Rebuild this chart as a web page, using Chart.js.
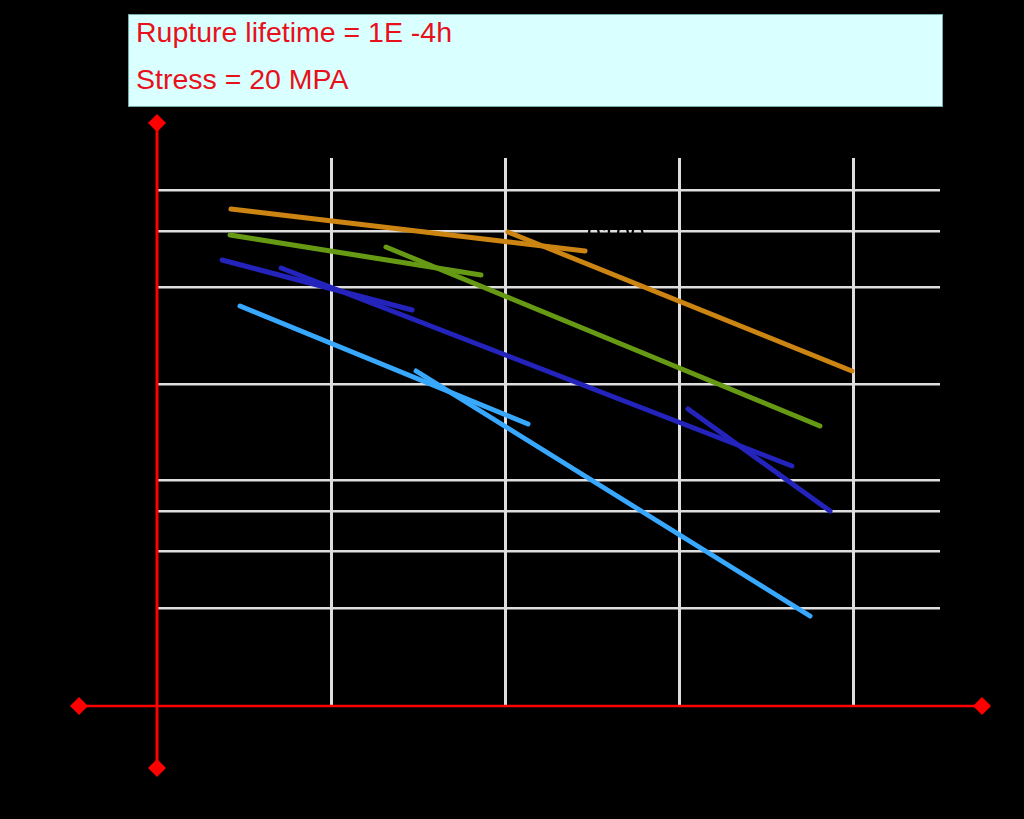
<!DOCTYPE html>
<html>
<head>
<meta charset="utf-8">
<script src="https://cdn.jsdelivr.net/npm/chart.js@4"></script>
<style>
  body { margin: 0; background: #000; }
  #wrap { position: relative; width: 1024px; height: 819px; }
  #info {
    position: absolute; left: 128px; top: 14px; width: 813px; height: 91px;
    background: #d9ffff; border: 1px solid #7aa; box-sizing: content-box;
    font-family: "Liberation Sans", Arial, sans-serif; font-size: 28.5px; color: #e8101a;
    line-height: 1;
  }
  #info div { position: absolute; left: 7px; }
</style>
</head>
<body>
<div id="wrap">
  <canvas id="rupture" width="1024" height="819"></canvas>
  <div id="info">
    <div style="top:3px">Rupture lifetime = 1E -4h</div>
    <div style="top:50px">Stress = 20 MPA</div>
  </div>
</div>
<script>
// x grid (decades) and y grid positions
const xTicks = [1, 2, 3, 4];
const yTicks = [5.16, 4.75, 4.19, 3.22, 2.26, 1.95, 1.55, 0.98];

// each curve is drawn as separate straight pieces
const orange1 = [{x: 0.425, y: 4.97}, {x: 2.46, y: 4.55}];
const orange2 = [{x: 2.017, y: 4.74}, {x: 3.994, y: 3.35}];
const green1 = [{x: 0.42, y: 4.71}, {x: 1.862, y: 4.31}];
const green2 = [{x: 1.316, y: 4.59}, {x: 3.81, y: 2.80}];
const blue1 = [{x: 0.374, y: 4.46}, {x: 1.466, y: 3.96}];
const blue2 = [{x: 0.713, y: 4.38}, {x: 3.649, y: 2.40}];
const blue3 = [{x: 3.052, y: 2.97}, {x: 3.868, y: 1.95}];
const sky1 = [{x: 0.477, y: 4.00}, {x: 2.132, y: 2.82}];
const sky2 = [{x: 1.489, y: 3.35}, {x: 3.753, y: 0.90}];

function seg(data, color) {
    return {
        data: data,
        borderColor: color,
        borderWidth: 5,
        borderCapStyle: 'round',
        pointRadius: 0,
        showLine: true,
        fill: false
    };
}

function diamond(ctx, x, y, r) {
    ctx.beginPath();
    ctx.moveTo(x, y - r);
    ctx.lineTo(x + r, y);
    ctx.lineTo(x, y + r);
    ctx.lineTo(x - r, y);
    ctx.closePath();
    ctx.fill();
}

// red axes with diamond ends, plus the (black) curve label
const redAxes = {
    id: 'redAxes',
    afterDraw(chart) {
        const ctx = chart.ctx;
        const x0 = chart.scales.x.getPixelForValue(0);
        const y0 = chart.scales.y.getPixelForValue(0);
        ctx.save();
        ctx.fillStyle = '#000';
        ctx.font = '26px "Liberation Sans", Arial, sans-serif';
        ctx.fillText('9100', chart.scales.x.getPixelForValue(2.47), chart.scales.y.getPixelForValue(4.62));
        ctx.strokeStyle = '#ff0000';
        ctx.fillStyle = '#ff0000';
        ctx.lineWidth = 3;
        ctx.beginPath();
        ctx.moveTo(x0, 122);
        ctx.lineTo(x0, 768);
        ctx.stroke();
        ctx.lineWidth = 2.5;
        ctx.beginPath();
        ctx.moveTo(78, y0);
        ctx.lineTo(982, y0);
        ctx.stroke();
        diamond(ctx, x0, 123, 9);
        diamond(ctx, x0, 768, 9);
        diamond(ctx, 79, y0, 9);
        diamond(ctx, 982, y0, 9);
        ctx.restore();
    }
};

new Chart(document.getElementById('rupture'), {
    type: 'scatter',
    data: {
        datasets: [
            seg(orange1, '#cc8412'), seg(orange2, '#cc8412'),
            seg(green1, '#679a14'), seg(green2, '#679a14'),
            seg(blue1, '#2424bd'), seg(blue2, '#2424bd'), seg(blue3, '#2424bd'),
            seg(sky1, '#38a8ff'), seg(sky2, '#38a8ff')
        ]
    },
    options: {
        responsive: false,
        animation: false,
        layout: { padding: { left: 157, right: 84, top: 158, bottom: 113 } },
        plugins: { legend: { display: false }, tooltip: { enabled: false } },
        scales: {
            x: {
                type: 'linear', min: 0, max: 4.5,
                afterBuildTicks: (s) => { s.ticks = xTicks.map(v => ({value: v})); },
                ticks: { display: false },
                grid: { color: '#dedede', lineWidth: 3, drawTicks: false },
                border: { display: false }
            },
            y: {
                type: 'linear', min: 0, max: 5.48,
                afterBuildTicks: (s) => { s.ticks = yTicks.map(v => ({value: v})); },
                ticks: { display: false },
                grid: { color: '#dedede', lineWidth: 2.5, drawTicks: false },
                border: { display: false }
            }
        }
    },
    plugins: [redAxes]
});
</script>
</body>
</html>
